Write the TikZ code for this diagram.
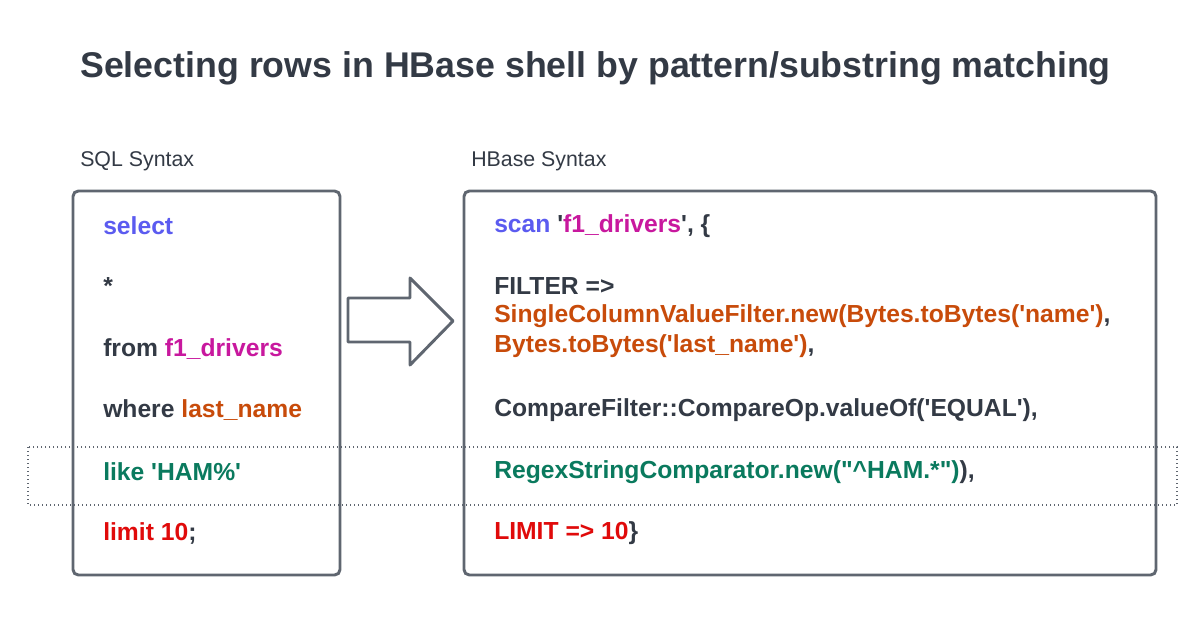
\documentclass[tikz,border=0pt]{standalone}
\usepackage{fontspec}
\setmainfont{Liberation Sans}
\newcommand{\sq}{\textquotesingle}
\newcommand{\dq}{\textquotedbl}
\definecolor{dk}{HTML}{333A45}
\definecolor{bx}{HTML}{5F6670}
\definecolor{kw}{HTML}{5B5BF0}
\definecolor{mg}{HTML}{C8189E}
\definecolor{og}{HTML}{C84B0A}
\definecolor{gr}{HTML}{0A7A5E}
\definecolor{rd}{HTML}{E00A0A}
\begin{document}
\begin{tikzpicture}[x=0.75pt,y=-0.75pt,
  box/.style={draw=bx,line width=2.2pt,rounded corners=4pt},
  code/.style={anchor=west,inner sep=0pt,font=\fontsize{18.5}{21}\selectfont\bfseries,text=dk},
  lbl/.style={anchor=west,inner sep=0pt,font=\fontsize{16}{19}\selectfont,text=dk}]
\useasboundingbox (0,0) rectangle (1200,620);
\fill[white] (0,0) rectangle (1200,620);
\node[anchor=west,inner sep=0pt,font=\fontsize{26.8}{30}\selectfont\bfseries,text=dk] (title) at (80,68) {Selecting rows in HBase shell by pattern/substring matching};
\node[lbl] (sqll) at (80,161) {SQL Syntax};
\node[lbl] (hbl) at (471,161) {HBase Syntax};
\draw[box] (73,191) rectangle (340,575);
\draw[box] (464,191) rectangle (1156,575);
\draw[bx,line width=0.8pt,dash pattern=on 1pt off 2pt] (28,447) rectangle (1177,505);
\draw[bx,line width=2.2pt,line join=round] (348,298) -- (410,298) -- (410,278) -- (453,321) -- (410,365) -- (410,342) -- (348,342) -- cycle;
\node[code] (l1) at (103,226) {\textcolor{kw}{select}};
\node[code] (l2) at (103,286) {*};
\node[code] (l3) at (103,349) {from \textcolor{mg}{f1\_drivers}};
\node[code] (l4) at (103,410) {where \textcolor{og}{last\_name}};
\node[code] (l5) at (103,472) {\textcolor{gr}{like \sq HAM\%\sq}};
\node[code] (l6) at (103,533) {\textcolor{rd}{limit 10};};
\node[code] (r1) at (494,226) {\textcolor{kw}{scan} \sq\textcolor{mg}{f1\_drivers}\sq, \{};
\node[code] (r2) at (494,286) {FILTER =>};
\node[code] (r3) at (494,316) {\textcolor{og}{SingleColumnValueFilter.new(Bytes.toBytes(\sq name\sq)},};
\node[code] (r4) at (494,346) {\textcolor{og}{Bytes.toBytes(\sq last\_name\sq)},};
\node[code] (r5) at (494,410) {CompareFilter::CompareOp.valueOf(\sq EQUAL\sq),};
\node[code] (r6) at (494,472) {\textcolor{gr}{RegexStringComparator.new(\dq\^{}HAM.*\dq)}),};
\node[code] (r7) at (494,533) {\textcolor{rd}{LIMIT => 10}\}};
\end{tikzpicture}
\end{document}
